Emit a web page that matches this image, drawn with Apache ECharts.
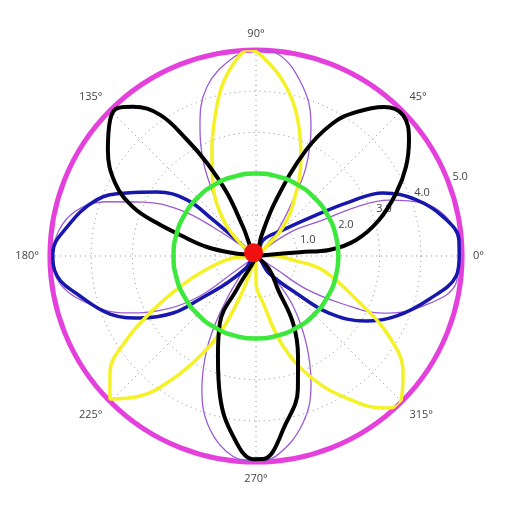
<!doctype html>
<html lang="en">
<head>
    <meta charset="UTF-8">
    <title>Polar roses</title>
    <script src="https://cdn.jsdelivr.net/npm/echarts@6/dist/echarts.min.js"></script>
    <style>
        html, body { margin: 0; padding: 0; background: #fff; }
    </style>
</head>
<body>
    <div id="main" style="width: 512px;height:512px;"></div>
    <script>
        // [angle (deg), radius]
        var blackRose = [
            [0, 0], [5, 1.07], [4.7, 1.78], [9.1, 2.46], [16.3, 3.11], [24.2, 3.73], [30.7, 4.23],
            [37.2, 4.66], [43.8, 4.94], [49.3, 4.77], [55.2, 4.25], [59.9, 3.73], [64.7, 2.84],
            [70.3, 1.44], [75, 0.5], [90, 0],
            [114, 0.77], [114.7, 1.68], [117.8, 2.55], [120.7, 3.28], [124.2, 4.14], [129.5, 4.69],
            [133, 4.91], [137, 4.84], [144.4, 4.42], [152.6, 3.85], [158.3, 3.21], [161.6, 2.53],
            [164.5, 1.91], [169.6, 1.21], [173, 0.5], [200, 0],
            [240, 0.9], [241.7, 1.85], [249.2, 2.6], [255.6, 3.51], [262.7, 4.4], [269.2, 4.93],
            [272, 4.93], [280.2, 4.12], [287.5, 3.38], [292.8, 2.63], [298.9, 1.86], [303, 1.0],
            [315, 0.45], [360, 0]
        ];
        var yellowRose = [
            [20, 0], [47, 0.96], [57.6, 1.81], [64.9, 2.57], [71.6, 3.3], [79.9, 4.17], [88, 4.83],
            [91.7, 5.0], [94.6, 4.89], [100.8, 4.27], [106.4, 3.52], [112.5, 2.79], [120.5, 2.06],
            [131, 1.26], [141, 0.5], [165, 0],
            [185, 0.56], [194.9, 1.23], [202.7, 2.08], [208.3, 2.92], [212.8, 3.72], [218.7, 4.54],
            [224.4, 4.96], [230.4, 4.41], [235.9, 3.6], [240.8, 2.78], [244.9, 2.06], [248, 1.23],
            [250, 0.53], [260, 0],
            [270, 0.65], [278.5, 1.15], [286.7, 2.28], [294.9, 3.29], [303, 4.14], [309.9, 4.81],
            [314.4, 5.0], [321.5, 4.56], [328.9, 3.77], [336.7, 2.64], [348, 1.66], [353, 0.98],
            [360, 0.4], [380, 0]
        ];
        var blueRose = [
            [0, 4.93], [4.5, 4.94], [11.8, 4.64], [19.3, 4.12], [26.4, 3.44], [30.1, 2.61], [34.3, 1.76],
            [44, 0.91], [66, 0.42], [100, 0],
            [141, 0.5], [140, 1.36], [140.9, 2.16], [147.1, 2.86], [154, 3.49], [160.6, 4.1],
            [171.3, 4.64], [179.2, 4.93], [185.7, 4.85], [192.8, 4.38], [201.7, 3.81], [208.1, 3.19],
            [214.5, 2.44], [217.5, 1.71], [223, 0.96], [230, 0.4], [270, 0],
            [307, 0.52], [317.2, 1.32], [322, 2.25], [329.4, 3.1], [336.8, 3.7], [346, 4.33],
            [354.3, 4.88], [360, 4.93]
        ];
        var purpleRose = [
            [0, 4.92], [6.6, 4.89], [17.6, 4.25], [22.8, 3.5], [26.1, 2.7], [28.2, 1.85], [34.9, 0.98], [42, 0],
            [49, 0.74], [56.5, 1.63], [60.7, 2.48], [66.9, 3.4], [74.5, 4.26], [84.4, 4.95], [90, 5.0],
            [96.6, 4.84], [106.2, 4.27], [113.5, 3.41], [118.9, 2.66], [124.3, 1.85], [135, 1.0], [140, 0],
            [146, 1.26], [148.8, 2.16], [154.5, 3.04], [160, 3.85], [166.8, 4.56], [175.4, 4.89], [180, 4.92],
            [186.6, 4.86], [195.5, 4.26], [203.8, 3.42], [210.8, 2.51], [215.5, 1.67], [216, 0.7], [225, 0],
            [231, 0.62], [237.7, 1.64], [242.2, 2.55], [247.9, 3.49], [255.1, 4.35], [263.4, 4.89], [270, 4.97],
            [275.7, 4.88], [285.7, 4.21], [293.4, 3.36], [299.9, 2.44], [306.5, 1.51], [310, 0.64], [318, 0],
            [327, 0.58], [326.6, 1.45], [331.1, 2.41], [335.8, 3.38], [343.3, 4.23], [352.3, 4.9], [360, 4.92]
        ];
        var circleAngles = [0, 15, 30, 45, 60, 75, 90, 105, 120, 135, 150, 165, 180,
            195, 210, 225, 240, 255, 270, 285, 300, 315, 330, 345, 360];
        var greenRadius = 2.0;
        var centerDot = [[127, 0.1]];
        var radiusTicks = [0, 1, 2, 3, 4, 5];

        function toPolar(list) {
            return list.map(function (p) { return [p[1], p[0]]; });
        }
        function ring(r) {
            return circleAngles.map(function (a) { return [r, a]; });
        }

        var myChart = echarts.init(document.getElementById('main'));
        var font = 'Open Sans';

        myChart.setOption({
            animation: false,
            backgroundColor: '#ffffff',
            polar: [
                {center: ['50%', '50%'], radius: '80.5%'},
                {center: ['50%', '50%'], radius: '80.5%'}
            ],
            angleAxis: [{
                polarIndex: 0,
                type: 'value',
                min: 0,
                max: 360,
                interval: 45,
                startAngle: 0,
                clockwise: false,
                // outer r = 5 ring, magenta
                axisLine: {show: true, lineStyle: {color: '#e441dc', width: 5}},
                axisTick: {show: false},
                axisLabel: {
                    margin: 11,
                    color: '#444',
                    fontFamily: font,
                    fontSize: 11,
                    formatter: function (v) { return v === 360 ? '' : v + '°'; }
                },
                splitLine: {lineStyle: {color: '#888', type: [1, 4], width: 1}}
            }, {
                polarIndex: 1,
                type: 'value',
                min: 0,
                max: 360,
                startAngle: 22.5,
                clockwise: false,
                show: false
            }],
            radiusAxis: [{
                polarIndex: 0,
                type: 'value',
                min: radiusTicks[0],
                max: radiusTicks[radiusTicks.length - 1],
                interval: 1,
                axisLine: {show: false},
                axisTick: {show: false},
                axisLabel: {show: false},
                splitLine: {lineStyle: {color: '#888', type: [1, 4], width: 1}}
            }, {
                polarIndex: 1,
                type: 'value',
                min: radiusTicks[0],
                max: radiusTicks[radiusTicks.length - 1],
                interval: 1,
                axisLine: {show: false},
                axisTick: {show: false},
                splitLine: {show: false},
                axisLabel: {
                    margin: 0,
                    align: 'left',
                    verticalAlign: 'middle',
                    padding: [4, 0, 0, 6],
                    color: '#444',
                    fontFamily: font,
                    fontSize: 11,
                    formatter: function (v) { return v === 0 ? '' : v.toFixed(1); }
                }
            }],
            series: [{
                type: 'line', coordinateSystem: 'polar', polarIndex: 0,
                data: toPolar(purpleRose), smooth: 0.4, symbol: 'none', clip: false,
                lineStyle: {color: '#9a5cd4', width: 1.3}
            }, {
                type: 'line', coordinateSystem: 'polar', polarIndex: 0,
                data: toPolar(blueRose), smooth: 0.4, symbol: 'none', clip: false,
                lineStyle: {color: '#1717ad', width: 3.5}
            }, {
                type: 'line', coordinateSystem: 'polar', polarIndex: 0,
                data: toPolar(yellowRose), smooth: 0.4, symbol: 'none', clip: false,
                lineStyle: {color: '#f4f224', width: 3.5}
            }, {
                type: 'line', coordinateSystem: 'polar', polarIndex: 0,
                data: toPolar(blackRose), smooth: 0.4, symbol: 'none', clip: false,
                lineStyle: {color: '#000000', width: 4}
            }, {
                type: 'line', coordinateSystem: 'polar', polarIndex: 0,
                data: ring(greenRadius), smooth: true, symbol: 'none', clip: false,
                lineStyle: {color: '#3de83d', width: 4.5}
            }, {
                type: 'scatter', coordinateSystem: 'polar', polarIndex: 0,
                data: toPolar(centerDot), symbolSize: 19, z: 10, clip: false,
                itemStyle: {color: '#f01010', opacity: 1}
            }]
        });
    </script>
</body>
</html>
